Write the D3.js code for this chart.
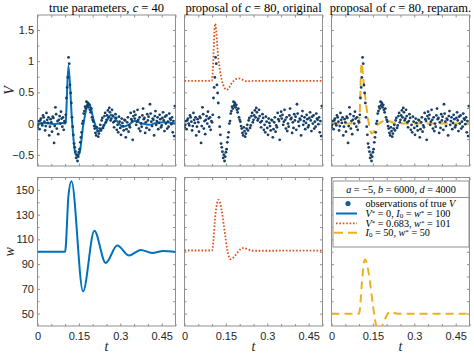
<!DOCTYPE html>
<html><head><meta charset="utf-8">
<script src="https://cdn.jsdelivr.net/npm/d3@7"></script>
<style>body{margin:0;background:#fff;} svg{display:block;}</style>
</head><body><svg id="c" width="474" height="355"></svg>
<script>
// ---------------- data ----------------
const tObs = d3.range(200).map(i => i * 0.0025);
const vObs = [
 -0.06, -0.02, 0.04, -0.09, 0.05, 0.08, 0.00, -0.03, 0.13, 0.10,
  0.03, -0.11, -0.04, 0.17, 0.06, 0.01, 0.10, -0.19, -0.05, 0.07,
  0.02, -0.13, 0.11, 0.09, -0.31, -0.04, 0.26, 0.15, -0.08, 0.04,
 -0.17, 0.06, 0.12, 0.00, 0.19, 0.08, -0.05, 0.10, -0.10, 0.04,
  0.02, 0.14, 0.41, 0.58, 0.74, 1.06, 0.96, 0.62, 0.49, 0.33,
  0.10, -0.05, -0.18, -0.32, -0.38, -0.45, -0.55, -0.50, -0.60, -0.53,
 -0.46, -0.41, -0.30, -0.22, -0.14, 0.00, 0.04, 0.16, 0.20, 0.27,
  0.24, 0.35, 0.29, 0.33, 0.26, 0.30, 0.22, 0.18, 0.24, 0.10,
  0.06, 0.03, -0.04, -0.08, -0.15, -0.19, -0.06, -0.12, -0.21, -0.16,
 -0.08, -0.02, -0.11, 0.05, 0.09, -0.07, -0.03, 0.12, 0.17, 0.02,
  0.06, 0.13, 0.21, 0.10, 0.25, 0.18, 0.05, 0.08, 0.22, 0.12,
  0.02, -0.06, 0.04, 0.15, 0.09, -0.10, -0.02, -0.14, 0.11, 0.03,
 -0.07, -0.18, 0.08, 0.01, -0.04, -0.11, 0.06, 0.05, -0.22, -0.09,
  0.02, 0.10, -0.13, -0.03, -0.06, 0.17, 0.07, 0.04, -0.26, 0.12,
  0.19, 0.08, 0.14, -0.02, 0.03, 0.22, 0.06, -0.08, 0.10, -0.12,
  0.00, -0.05, 0.13, 0.24, 0.07, 0.09, -0.15, 0.02, -0.07, 0.15,
  0.05, 0.11, -0.10, 0.31, 0.16, 0.03, -0.04, 0.08, 0.06, -0.19,
  0.12, 0.20, -0.02, 0.04, 0.10, -0.09, 0.01, 0.14, 0.07, -0.06,
 -0.03, 0.09, 0.18, 0.05, -0.12, 0.11, 0.00, 0.13, -0.08, 0.03,
 -0.05, 0.16, 0.08, 0.06, -0.01, 0.10, -0.14, 0.04, -0.20, 0.28
];
// true parameters (blue)
const tVTrue = [0, 0.03, 0.06, 0.09, 0.1, 0.102, 0.112, 0.125, 0.137, 0.145, 0.153, 0.165, 0.187, 0.204, 0.222, 0.245, 0.268, 0.29, 0.31, 0.33, 0.352, 0.38, 0.405, 0.43, 0.46, 0.5];
const vTrue  = [0, 0.01, -0.01, 0.01, 0, 0.02, 0.93, 0.05, -0.48, -0.52, -0.46, -0.05, 0.32, 0.05, -0.13, 0.0, 0.14, 0.03, -0.05, -0.02, 0.04, 0.0, -0.02, 0.01, 0.02, 0];
const tWTrue = [0, 0.1, 0.102, 0.112, 0.123, 0.165, 0.206, 0.247, 0.289, 0.332, 0.374, 0.415, 0.456, 0.5];
const wTrue  = [100, 100, 103, 145, 157, 68, 117, 91, 105, 97, 101.5, 99, 100.6, 99.8];
// proposal, original (red dotted)
const tVOrig = [0, 0.099, 0.101, 0.111, 0.123, 0.135, 0.153, 0.175, 0.196, 0.225, 0.26, 0.5];
const vOrig  = [0.683, 0.683, 0.75, 1.6, 1.03, 0.7, 0.54, 0.67, 0.725, 0.68, 0.685, 0.683];
const tWOrig = [0, 0.1, 0.102, 0.112, 0.123, 0.166, 0.212, 0.25, 0.5];
const wOrig  = [101, 101, 103, 130, 142, 94, 103, 100.8, 101];
// proposal, reparam. (yellow dashed)
const tVRep = [0, 0.099, 0.101, 0.109, 0.116, 0.127, 0.136, 0.146, 0.165, 0.2, 0.235, 0.5];
const vRep  = [0, 0, 0.06, 0.97, 0.68, 0.25, -0.02, -0.16, -0.03, 0.05, 0.0, 0.0];
const tWRep = [0, 0.1, 0.102, 0.112, 0.121, 0.17, 0.211, 0.245, 0.5];
const wRep  = [50, 50, 52, 80, 93.7, 36, 51.3, 49.8, 50];

const xTickVals = [0, 0.15, 0.3, 0.45];
const xMinorVals = [0.05, 0.1, 0.2, 0.25, 0.35, 0.4, 0.5];
const vTickVals = [-0.5, 0, 0.5, 1, 1.5];
const vMinorVals = [-0.25, 0.25, 0.75, 1.25];
const wTickVals = [50, 70, 90, 110, 130, 150];
const wMinorVals = [60, 80, 100, 120, 140];

// ---------------- layout ----------------
const svg = d3.select('#c');
const cols = [[37.5, 175.5], [184.5, 322.5], [331.5, 469.5]];
const rows = [[15, 166], [177.5, 326]];
const xs = cols.map(c => d3.scaleLinear().domain([0, 0.5]).range(c));
const yV = d3.scaleLinear().domain([-0.68, 1.74]).range([rows[0][1], rows[0][0]]);
const yW = d3.scaleLinear().domain([40, 160]).range([rows[1][1], rows[1][0]]);

const BLUE = '#0072BD', RED = '#D95319', YEL = '#EDB120', DOT = '#173f66';
const TXT = '#262626', FRAME = '#8f8f8f';
const SERIF = "'Liberation Serif', 'Times New Roman', serif";
const SANS = "'Liberation Sans', Arial, sans-serif";

const defs = svg.append('defs');

function panel(ci, ri) {
  const x = xs[ci];
  const y = ri === 0 ? yV : yW;
  const [l, r] = cols[ci];
  const [t, b] = rows[ri];
  const id = `clip${ci}${ri}`;
  defs.append('clipPath').attr('id', id).append('rect')
    .attr('x', l).attr('y', t).attr('width', r - l).attr('height', b - t);
  const g = svg.append('g');
  const major = ri === 0 ? vTickVals : wTickVals;
  const minor = ri === 0 ? vMinorVals : wMinorVals;
  const styleAxis = sel => {
    sel.select('.domain').remove();
    sel.selectAll('line').attr('stroke', FRAME);
    sel.selectAll('text').attr('fill', TXT).style('font-family', SANS).style('font-size', '11px');
  };
  g.append('g').attr('transform', `translate(0,${b})`)
    .call(d3.axisBottom(x).tickValues(xTickVals).tickSizeInner(-2.5).tickSizeOuter(0).tickPadding(6)
      .tickFormat(ri === 1 ? d3.format('') : () => ''))
    .call(styleAxis);
  g.append('g').attr('transform', `translate(0,${b})`)
    .call(d3.axisBottom(x).tickValues(xMinorVals).tickSizeInner(-2).tickSizeOuter(0).tickFormat(() => ''))
    .call(styleAxis);
  g.append('g').attr('transform', `translate(0,${t})`)
    .call(d3.axisTop(x).tickValues(xTickVals.concat(xMinorVals)).tickSizeInner(-2.5).tickSizeOuter(0).tickFormat(() => ''))
    .call(styleAxis);
  g.append('g').attr('transform', `translate(${l},0)`)
    .call(d3.axisLeft(y).tickValues(major).tickSizeInner(-2.5).tickSizeOuter(0).tickPadding(3.5)
      .tickFormat(ci === 0 ? d3.format('') : () => ''))
    .call(styleAxis);
  g.append('g').attr('transform', `translate(${l},0)`)
    .call(d3.axisLeft(y).tickValues(minor).tickSizeInner(-2).tickSizeOuter(0).tickFormat(() => ''))
    .call(styleAxis);
  g.append('g').attr('transform', `translate(${r},0)`)
    .call(d3.axisRight(y).tickValues(major.concat(minor)).tickSizeInner(-2.5).tickSizeOuter(0).tickFormat(() => ''))
    .call(styleAxis);
  g.append('rect').attr('x', l).attr('y', t).attr('width', r - l).attr('height', b - t)
    .attr('fill', 'none').attr('stroke', FRAME).attr('stroke-width', 1);
  return { x, y, clip: `url(#${id})` };
}

function drawLine(p, ts, vs, color, dash, width) {
  const data = ts.map((d, i) => [d, vs[i]]);
  svg.append('path').datum(data)
    .attr('clip-path', p.clip)
    .attr('fill', 'none').attr('stroke', color).attr('stroke-width', width)
    .attr('stroke-dasharray', dash)
    .attr('d', d3.line().x(d => p.x(d[0])).y(d => p.y(d[1])).curve(d3.curveMonotoneX));
}
function drawDots(p) {
  svg.append('g').attr('clip-path', p.clip).selectAll('circle')
    .data(tObs.map((d, i) => [d, vObs[i]])).join('circle')
    .attr('cx', d => p.x(d[0])).attr('cy', d => p.y(d[1])).attr('r', 1.4)
    .attr('fill', DOT);
}

const P = [];
for (let ri = 0; ri < 2; ri++) for (let ci = 0; ci < 3; ci++) P.push(panel(ci, ri));

drawLine(P[0], tVTrue, vTrue, BLUE, null, 2);
drawDots(P[0]);
drawLine(P[1], tVOrig, vOrig, RED, '1.6,1.8', 1.8);
drawDots(P[1]);
drawLine(P[2], tVRep, vRep, YEL, '8,5', 2);
drawDots(P[2]);
drawLine(P[3], tWTrue, wTrue, BLUE, null, 2);
drawLine(P[4], tWOrig, wOrig, RED, '1.6,1.8', 1.8);
drawLine(P[5], tWRep, wRep, YEL, '8,5', 2);

// titles
const titles = [
  ['true parameters, ', 'c', ' = 40'],
  ['proposal of ', 'c', ' = 80, original'],
  ['proposal of ', 'c', ' = 80, reparam.']
];
titles.forEach((parts, ci) => {
  const tx = svg.append('text').attr('x', (cols[ci][0] + cols[ci][1]) / 2).attr('y', 12)
    .attr('text-anchor', 'middle').style('font-family', SERIF).style('font-size', '12.5px').attr('fill', '#000');
  parts.forEach((s, k) => tx.append('tspan').text(s).style('font-style', k === 1 ? 'italic' : 'normal'));
});

// axis labels
const lab = (x, y, s, rot) => svg.append('text').attr('transform', `translate(${x},${y}) rotate(${rot})`)
  .attr('text-anchor', 'middle').style('font-family', SERIF).style('font-style', 'italic')
  .style('font-size', '14px').attr('fill', TXT).text(s);
lab(14, (rows[0][0] + rows[0][1]) / 2, 'V', -90);
lab(14, (rows[1][0] + rows[1][1]) / 2, 'w', -90);
cols.forEach(c => lab((c[0] + c[1]) / 2, 351, 't', 0));

// legend
const lg = svg.append('g');
const LX = 333, LY = 181, LW = 136, LH = 66;
lg.append('rect').attr('x', LX).attr('y', LY).attr('width', LW).attr('height', LH)
  .attr('fill', '#fff').attr('stroke', FRAME).attr('stroke-width', 1);
lg.append('line').attr('x1', LX).attr('x2', LX + LW).attr('y1', 197.5).attr('y2', 197.5)
  .attr('stroke', FRAME).attr('stroke-width', 1);
function rich(x, y, parts, anchor) {
  const t = lg.append('text').attr('x', x).attr('y', y).attr('text-anchor', anchor || 'start')
    .style('font-family', SERIF).style('font-size', '10.2px').attr('fill', '#000');
  parts.forEach(p => {
    const ts = t.append('tspan').text(p[0]);
    if (p[1] && p[1].includes('i')) ts.style('font-style', 'italic');
    if (p[1] && p[1].includes('sup')) ts.attr('baseline-shift', '25%').style('font-size', '7px');
    if (p[1] && p[1].includes('sub')) ts.attr('baseline-shift', '-12%').style('font-size', '7px');
  });
}
rich(LX + LW / 2, 193, [['a', 'i'], [' = −5, '], ['b', 'i'], [' = 6000, '], ['d', 'i'], [' = 4000']], 'middle');
const ent = [203.5, 213.5, 223.3, 232.8];
const TX = 365.5;
lg.append('circle').attr('cx', 348).attr('cy', ent[0]).attr('r', 2.6).attr('fill', '#1b5a94');
rich(TX, ent[0] + 3.5, [['observations of true '], ['V', 'i']]);
lg.append('line').attr('x1', 336).attr('x2', 357).attr('y1', ent[1]).attr('y2', ent[1])
  .attr('stroke', BLUE).attr('stroke-width', 2);
rich(TX, ent[1] + 3.5, [['V', 'i'], ['*', 'sup'], [' = 0, '], ['I', 'i'], ['0', 'sub'], [' = '], ['w', 'i'], ['*', 'sup'], [' = 100']]);
lg.append('line').attr('x1', 336).attr('x2', 357).attr('y1', ent[2]).attr('y2', ent[2])
  .attr('stroke', RED).attr('stroke-width', 1.8).attr('stroke-dasharray', '1.6,1.8');
rich(TX, ent[2] + 3.5, [['V', 'i'], ['*', 'sup'], [' = 0.683, '], ['w', 'i'], ['*', 'sup'], [' = 101']]);
lg.append('line').attr('x1', 334).attr('x2', 360).attr('y1', ent[3]).attr('y2', ent[3])
  .attr('stroke', YEL).attr('stroke-width', 2).attr('stroke-dasharray', '9,5');
rich(TX, ent[3] + 3.5, [['I', 'i'], ['0', 'sub'], [' = 50, '], ['w', 'i'], ['*', 'sup'], [' = 50']]);
</script>
</body></html>
